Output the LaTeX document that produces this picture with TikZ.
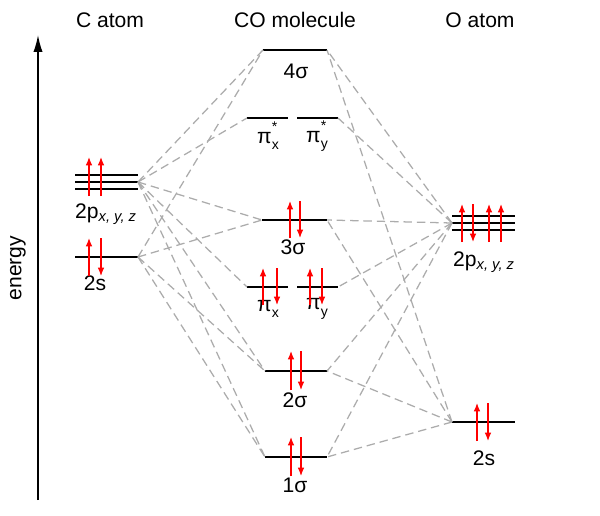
\documentclass[tikz,border=0pt]{standalone}
\usepackage{fontspec}
\setmainfont{Liberation Sans}
\usetikzlibrary{arrows.meta}
\newcommand{\supsub}[2]{\makebox[0pt][l]{\raisebox{0.55em}{\fontsize{10pt}{10pt}\selectfont #1}}\raisebox{-0.3em}{\fontsize{10pt}{10pt}\selectfont #2}}
\tikzset{lvl/.style={fill=black, inner sep=0pt, outer sep=0pt, minimum height=2.1pt},
 wide/.style={lvl, minimum width=1.575cm},
 half/.style={lvl, minimum width=1.025cm},
 spin/.style={draw=red, line width=0.9pt, -{Latex[length=6pt,width=4.8pt]}},
 mix/.style={draw=gray!65, line width=0.9pt, dash pattern=on 6pt off 3.5pt},
 }

\begin{document}
\begin{tikzpicture}[x=0.025cm, y=-0.025cm, font=\fontsize{15pt}{18pt}\selectfont]
        \useasboundingbox (0,0) rectangle (600,515);
        % energy axis
        \coordinate (ebot) at (38,500);
        \coordinate (etop) at (38,35);
        \draw[line width=1pt, -{Latex[length=12pt,width=6.5pt]}] (ebot) -- (etop);
        \node[rotate=90] (energy) at (18,268) {energy};
        % titles
        \node (tc) at (110,20) {C atom};
        \node (tco) at (295,20) {CO molecule};
        \node (to) at (480,20) {O atom};

        % C atom
        \node[wide] (c2pa) at (106.5,175) {};
        \node[wide] (c2p) at (106.5,182) {};
        \node[wide] (c2pb) at (106.5,189) {};
        \node[wide] (c2s) at (106.5,257) {};
        \node (lc2p) at (106,214) {2p\textsubscript{\itshape x, y, z}};
        \node (lc2s) at (95,283) {2s};

        % O atom
        \node[wide] (o2pa) at (483.5,216) {};
        \node[wide] (o2p) at (483.5,223) {};
        \node[wide] (o2pb) at (483.5,230) {};
        \node[wide] (o2s) at (483.5,422) {};
        \node (lo2p) at (484,262) {2p\textsubscript{\itshape x, y, z}};
        \node (lo2s) at (484,458) {2s};

        % CO molecule
        \node[lvl, minimum width=1.6cm] (s4) at (295,50) {};
        \node[half] (pisx) at (267.5,118) {};
        \node[half] (pisy) at (317.5,118) {};
        \node[lvl, minimum width=1.625cm] (s3) at (294.5,220) {};
        \node[half] (pix) at (267.5,287) {};
        \node[half] (piy) at (317.5,287) {};
        \node[lvl, minimum width=1.55cm] (s2) at (296,371) {};
        \node[lvl, minimum width=1.55cm] (s1) at (296,457) {};
        \node (ls4) at (296,71) {4σ};
        \node (lpisx) at (268,136) {π\supsub{*}{x}};
        \node (lpisy) at (317,136) {π\supsub{*}{y}};
        \node (ls3) at (293,247) {3σ};
        \node (lpix) at (268,309) {π\raisebox{-0.3em}{\fontsize{10pt}{10pt}\selectfont x}};
        \node (lpiy) at (317,309) {π\raisebox{-0.3em}{\fontsize{10pt}{10pt}\selectfont y}};
        \node (ls2) at (295,400) {2σ};
        \node (ls1) at (295,485) {1σ};

        % mixing lines
        \draw[mix] (c2p.east) -- (s4.west);
        \draw[mix] (c2p.east) -- (pisx.west);
        \draw[mix] (c2p.east) -- (s3.west);
        \draw[mix] (c2p.east) -- (pix.west);
        \draw[mix] (c2p.east) -- (s2.west);
        \draw[mix] (c2p.east) -- (s1.west);
        \draw[mix] (c2s.east) -- (s4.west);
        \draw[mix] (c2s.east) -- (s3.west);
        \draw[mix] (c2s.east) -- (s2.west);
        \draw[mix] (c2s.east) -- (s1.west);
        \draw[mix] (o2p.west) -- (s4.east);
        \draw[mix] (o2p.west) -- (pisy.east);
        \draw[mix] (o2p.west) -- (s3.east);
        \draw[mix] (o2p.west) -- (piy.east);
        \draw[mix] (o2p.west) -- (s2.east);
        \draw[mix] (o2p.west) -- (s1.east);
        \draw[mix] (o2s.west) -- (s4.east);
        \draw[mix] (o2s.west) -- (s3.east);
        \draw[mix] (o2s.west) -- (s2.east);
        \draw[mix] (o2s.west) -- (s1.east);

        % electrons
        \draw[spin] (89,196) -- (89,157);
        \draw[spin] (101,196) -- (101,157);
        \draw[spin] (89,276) -- (89,238);
        \draw[spin] (101,238) -- (101,276);
        \draw[spin] (462,242) -- (462,204);
        \draw[spin] (473,204) -- (473,242);
        \draw[spin] (489,242) -- (489,204);
        \draw[spin] (501,242) -- (501,204);
        \draw[spin] (477,441) -- (477,403);
        \draw[spin] (488,403) -- (488,441);
        \draw[spin] (290,238) -- (290,201);
        \draw[spin] (300,201) -- (300,238);
        \draw[spin] (263,305) -- (263,268);
        \draw[spin] (277,268) -- (277,305);
        \draw[spin] (310,305) -- (310,268);
        \draw[spin] (322,268) -- (322,305);
        \draw[spin] (291,390) -- (291,351);
        \draw[spin] (301,351) -- (301,390);
        \draw[spin] (291,476) -- (291,437);
        \draw[spin] (301,437) -- (301,476);
    \end{tikzpicture}
\end{document}
